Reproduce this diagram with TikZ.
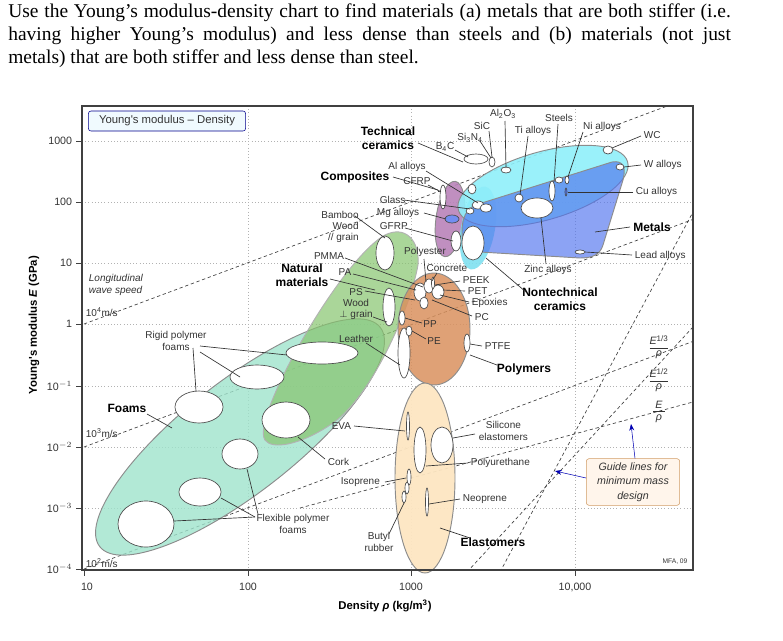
\documentclass[tikz,border=0pt]{standalone}
\usepackage{fontspec}
\setmainfont{Liberation Serif}
\newfontfamily\arial{Liberation Sans}
\usetikzlibrary{arrows.meta}
\definecolor{foamc}{HTML}{9FE3CC}
\definecolor{natc}{HTML}{86C46E}
\definecolor{polc}{HTML}{D9915E}
\definecolor{elac}{HTML}{FDE6C2}
\definecolor{compc}{HTML}{B983B9}
\definecolor{cerc}{HTML}{8FEFFA}
\definecolor{metc}{HTML}{4F72EE}
\definecolor{ntc}{HTML}{7FE0F0}
\begin{document}
\begin{tikzpicture}[x=0.75pt,y=-0.75pt,
  bub/.style={draw=black!70,fill=white,line width=0.5pt},
  env/.style={draw=black!45,line width=0.7pt},
  lab/.style={font=\arial\fontsize{7.5}{8.5}\selectfont,text=black!80,inner sep=0.5pt,align=center},
  fam/.style={font=\arial\bfseries\fontsize{9}{10.5}\selectfont,inner sep=0.5pt,align=center},
  ld/.style={draw=black!80,line width=0.5pt},
  grid/.style={draw=black!30,dotted,line width=0.4pt},
  gl/.style={draw=black!75,dash pattern=on 2.5pt off 2pt,line width=0.5pt}]
\useasboundingbox (0,0) rectangle (783,640);
% question
\node[anchor=north west,inner sep=0,text width=542pt,align=justify,font=\fontsize{14.6}{17}\selectfont] (q) at (8,4)
{Use the Young's modulus-density chart to find materials (a) metals that are both stiffer (i.e.\linebreak having higher Young's modulus) and less dense than steels and (b) materials (not just\linebreak metals) that are both stiffer and less dense than steel.};
% grid
\foreach \y in {141,202,263,324,386,447,508} \draw[grid] (82,\y) -- (693,\y);
\foreach \x in {248,411,575} \draw[grid] (\x,106) -- (\x,570);
% guide lines (clipped)
\begin{scope}
\clip (82,106) rectangle (693,570);
\foreach \b in {324,447,569} \draw[gl] (84,\b) -- (84+164*4,\b-61.3*4);
\draw[gl] (300,508) -- (693,402);
\draw[gl] (467,572) -- (693,327);
\draw[gl] (500,572) -- (693,212);
\end{scope}
% envelopes
\fill[foamc,opacity=0.8] [rotate around={38:(240,437)}] (240,437) ellipse [x radius=178,y radius=56];
\draw[env] [rotate around={38:(240,437)}] (240,437) ellipse [x radius=178,y radius=56];
\fill[natc,opacity=0.7] (265,440) .. controls (250,420) and (340,260) .. (385,235) .. controls (405,225) and (420,240) .. (418,265) .. controls (410,310) and (370,400) .. (330,425) .. controls (300,445) and (272,450) .. (265,440) -- cycle;
\draw[env,draw=black!30] (265,440) .. controls (250,420) and (340,260) .. (385,235) .. controls (405,225) and (420,240) .. (418,265) .. controls (410,310) and (370,400) .. (330,425) .. controls (300,445) and (272,450) .. (265,440) -- cycle;
\fill[polc,opacity=0.85] (434,329) ellipse [x radius=36,y radius=56];
\draw[env] (434,329) ellipse [x radius=36,y radius=56];
\fill[elac,opacity=0.95] (425,478) ellipse [x radius=30,y radius=95];
\draw[env] (425,478) ellipse [x radius=30,y radius=95];
\fill[compc,opacity=0.9] [rotate around={-8:(450,219)}] (450,219) ellipse [x radius=14,y radius=38];
\draw[env] [rotate around={-8:(450,219)}] (450,219) ellipse [x radius=14,y radius=38];
\fill[ntc,opacity=0.9] [rotate around={-10:(478,228)}] (478,228) ellipse [x radius=17,y radius=42];
\fill[cerc,opacity=0.9] [rotate around={16:(543,186)}] (543,186) ellipse [x radius=88,y radius=34];
\draw[env] [rotate around={16:(543,186)}] (543,186) ellipse [x radius=88,y radius=34];
\fill[metc,opacity=0.65] (462,232) .. controls (462,212) and (470,205) .. (485,202) -- (612,162) .. controls (624,160) and (626,168) .. (623,180) -- (603,245) .. controls (600,255) and (592,258) .. (580,258) -- (480,252) .. controls (466,250) and (462,245) .. (462,232) -- cycle;
\draw[env] (462,232) .. controls (462,212) and (470,205) .. (485,202) -- (612,162) .. controls (624,160) and (626,168) .. (623,180) -- (603,245) .. controls (600,255) and (592,258) .. (580,258) -- (480,252) .. controls (466,250) and (462,245) .. (462,232) -- cycle;
% bubbles: foams
\draw[bub] (199,407) ellipse [x radius=24,y radius=16];
\draw[bub] (257,377) ellipse [x radius=27,y radius=12];
\draw[bub] (322,353) ellipse [x radius=36,y radius=11];
\draw[bub] (286,420) ellipse [x radius=24,y radius=18];
\draw[bub] (240,454) ellipse [x radius=18,y radius=15];
\draw[bub] (200,492) ellipse [x radius=21,y radius=14];
\draw[bub] (146,524) ellipse [x radius=28,y radius=23];
% natural / polymers
\draw[bub] (385,253) ellipse [x radius=9,y radius=17];
\draw[bub] (389,307) ellipse [x radius=6,y radius=19];
\draw[bub] (404,353) ellipse [x radius=6,y radius=25];
\draw[bub] (402,318) ellipse [x radius=3,y radius=7];
\draw[bub] (409,331) ellipse [x radius=3,y radius=5];
\draw[bub] (467,343) ellipse [x radius=3,y radius=9];
\draw[bub] (420,292) ellipse [x radius=6,y radius=9];
\draw[bub] (429,286) ellipse [x radius=5,y radius=7];
\draw[bub] (438,292) ellipse [x radius=6,y radius=7];
\draw[bub] (424,303) ellipse [x radius=4,y radius=6];
\draw[bub] (433,283) ellipse [x radius=1.5,y radius=6];
% composites / ceramics / metals
\draw[bub] (443,197) ellipse [x radius=3,y radius=12];
\draw[bub] (456,241) ellipse [x radius=5,y radius=10];
\draw[bub,fill=metc!80] (452,219) ellipse [x radius=7,y radius=4];
\draw[bub] (473,243) ellipse [x radius=11,y radius=17];
\draw[bub] (476,159) ellipse [x radius=12,y radius=5];
\draw[bub] (492,162) ellipse [x radius=3,y radius=5];
\draw[bub] (506,170) ellipse [x radius=5,y radius=3];
\draw[bub] (472,189) ellipse [x radius=4,y radius=5];
\draw[bub] (519,198) ellipse [x radius=4,y radius=4];
\draw[bub] (478,205) ellipse [x radius=6,y radius=4];
\draw[bub] (486,208) ellipse [x radius=6,y radius=4];
\draw[bub] (470,211) ellipse [x radius=4,y radius=3];
\draw[bub] (552,191) ellipse [x radius=3,y radius=10];
\draw[bub] (537,208) ellipse [x radius=16,y radius=10];
\draw[bub] (559,180) ellipse [x radius=4,y radius=3];
\draw[bub] (567,180) ellipse [x radius=2,y radius=4];
\draw[bub] (608,150) ellipse [x radius=5,y radius=4];
\draw[bub] (620,167) ellipse [x radius=4,y radius=3];
\draw[bub,fill=metc] (566,192) ellipse [x radius=1,y radius=4];
\draw[bub] (580,252) ellipse [x radius=5,y radius=2];
% elastomers
\draw[bub] (408,426) ellipse [x radius=1.5,y radius=14];
\draw[bub] (442,445) ellipse [x radius=11,y radius=18];
\draw[bub] (420,450) ellipse [x radius=6,y radius=23];
\draw[bub] (409,477) ellipse [x radius=2,y radius=8];
\draw[bub] (407,488) ellipse [x radius=2,y radius=6];
\draw[bub] (404,497) ellipse [x radius=2,y radius=6];
\draw[bub] (427,502) ellipse [x radius=1.5,y radius=14];
% frame and ticks
\draw[black!75,line width=0.8pt] (82,106) rectangle (693,570);
\foreach \y in {141,202,263,324,386,447,508,569} \draw[black!75] (82,\y) -- (76,\y);
\foreach \x in {84,248,411,575} \draw[black!75] (\x,570) -- (\x,576);
% title box
\node[lab,font=\arial\fontsize{8.5}{10}\selectfont,draw=blue!55!black,fill=cyan!6,rounded corners=2pt,minimum width=118pt,minimum height=15pt] (title) at (167,121) {Young's modulus – Density};
% axis labels
\foreach \t/\y/\n in {1000/141/ya,100/202/yb,10/263/yc,1/324/yd,10$^{-1}$/386/ye,10$^{-2}$/447/yf,10$^{-3}$/508/yg,10$^{-4}$/569/yh}
  \node[lab,anchor=east,font=\arial\fontsize{8}{9}\selectfont] (\n) at (73,\y) {\t};
\foreach \t/\x/\n in {10/87/xa,100/248/xb,1000/411/xc,{10,000}/575/xd}
  \node[lab,font=\arial\fontsize{8}{9}\selectfont] (\n) at (\x,587) {\t};
\node[fam,font=\arial\bfseries\fontsize{8.5}{10}\selectfont] (xl) at (385,606) {Density \textit{ρ} (kg/m\textsuperscript{3})};
\node[fam,font=\arial\bfseries\fontsize{8.5}{10}\selectfont,rotate=90] (yl) at (34,325) {Young's modulus \textit{E} (GPa)};
% wave speed labels
\node[lab,anchor=west,align=left,font=\arial\itshape\fontsize{7.5}{9.5}\selectfont] (lw) at (88,285) {Longitudinal\\wave speed};
\node[lab,anchor=west] (w4) at (85,312) {10\textsuperscript{4}m/s};
\node[lab,anchor=west] (w3) at (85,433) {10\textsuperscript{3}m/s};
\node[lab,anchor=west] (w2) at (85,563) {10\textsuperscript{2}m/s};
% family labels
\node[fam] (ffoam) at (127,408) {Foams};
\node[fam] (fnat) at (302,275) {Natural\\materials};
\node[fam] (fcomp) at (355,177) {Composites};
\node[fam] (ftc) at (388,138) {Technical\\ceramics};
\node[fam] (fmet) at (652,227) {Metals};
\node[fam] (fntc) at (560,299) {Nontechnical\\ceramics};
\node[fam] (fpol) at (524,369) {Polymers};
\node[fam] (fela) at (493,542) {Elastomers};
\draw[ld] (147,414) -- (172,428);
\draw[ld] (330,279) -- (375,290);
\draw[ld] (393,177) -- (438,190);
\draw[ld] (418,143) -- (463,162);
\draw[ld] (630,227) -- (595,232);
\draw[ld] (526,292) -- (486,258);
\draw[ld] (497,365) -- (470,355);
\draw[ld] (470,538) -- (440,528);
% material labels
\node[lab] (rpf) at (176,341) {Rigid polymer\\foams};
\draw[ld] (200,346) -- (287,355); \draw[ld] (200,352) -- (240,377); \draw[ld] (193,348) -- (196,391);
\node[lab] (fpf) at (293,524) {Flexible polymer\\foams};
\draw[ld] (255,517) -- (174,521); \draw[ld] (255,517) -- (221,498); \draw[ld] (258,514) -- (247,469);
\node[lab,anchor=west] (cork) at (327,462) {Cork};
\draw[ld] (325,459) -- (298,437);
\node[lab,anchor=west] (iso) at (340,482) {Isoprene};
\draw[ld] (385,482) -- (406,478);
\node[lab,anchor=east] (eva) at (352,426) {EVA};
\draw[ld] (354,426) -- (405,431);
\node[lab] (butyl) at (379,542) {Butyl\\rubber};
\draw[ld] (389,534) -- (404,503);
\node[lab,anchor=west] (sil) at (478,431) {Silicone\\elastomers};
\draw[ld] (475,434) -- (453,438);
\node[lab,anchor=west] (pu) at (470,463) {Polyurethane};
\draw[ld] (468,463) -- (426,466);
\node[lab,anchor=west] (neo) at (462,499) {Neoprene};
\draw[ld] (460,499) -- (429,504);
% guide box
\node[lab,font=\arial\itshape\fontsize{8}{11}\selectfont,draw=orange!70!black!60,fill=orange!8,rounded corners=2pt,minimum width=70pt,minimum height=35pt] (guide) at (633,482) {Guide lines for\\minimum mass\\design};
\draw[blue!70!black,-{Stealth[length=5pt]}] (guide.north) ++(2,0) -- (631,424);
\draw[blue!70!black,-{Stealth[length=5pt]}] (guide.west) ++(0,-4) -- (555,471);
\node[lab,font=\arial\fontsize{8}{9}\selectfont] (e3) at (659,347) {\shortstack{\textit{E}\textsuperscript{1/3}\\[-1pt]\rule{14pt}{0.4pt}\\[-1pt]\textit{ρ}}};
\node[lab,font=\arial\fontsize{8}{9}\selectfont] (e2) at (659,380) {\shortstack{\textit{E}\textsuperscript{1/2}\\[-1pt]\rule{14pt}{0.4pt}\\[-1pt]\textit{ρ}}};
\node[lab,font=\arial\fontsize{8}{9}\selectfont] (e1) at (659,412) {\shortstack{\textit{E}\\[-1pt]\rule{9pt}{0.4pt}\\[-1pt]\textit{ρ}}};
\node[lab,font=\arial\fontsize{5}{6}\selectfont] (mfa) at (675,562) {MFA, 09};
% polymers/natural
\node[lab,anchor=west] (ptfe) at (484,346) {PTFE};
\draw[ld] (482,346) -- (470,344);
\node[lab] (pe) at (434,341) {PE};
\draw[ld] (426,339) -- (412,331);
\node[lab] (pp) at (430,324) {PP};
\draw[ld] (422,323) -- (405,318);
\node[lab,anchor=west] (pc) at (474,317) {PC};
\draw[ld] (472,316) -- (432,300);
\node[lab,anchor=west] (epo) at (471,303) {Epoxies};
\draw[ld] (469,302) -- (440,295);
\node[lab,anchor=west] (pet) at (467,291) {PET};
\draw[ld] (465,291) -- (443,290);
\node[lab,anchor=west] (peek) at (462,280) {PEEK};
\draw[ld] (460,281) -- (435,285);
\node[lab] (conc) at (447,268) {Concrete};
\draw[ld] (437,273) -- (432,281);
\node[lab] (polyes) at (425,252) {Polyester};
\draw[ld] (424,259) -- (426,282);
\node[lab] (leath) at (356,339) {Leather};
\draw[ld] (366,343) -- (400,365);
\node[lab] (wperp) at (356,304) {PS\\Wood\\$\perp$ grain};
\draw[ld] (373,317) -- (387,322);
\draw[ld] (365,291) -- (415,300);
\node[lab] (pa) at (345,272) {PA};
\draw[ld] (353,274) -- (416,290);
\node[lab] (pmma) at (329,256) {PMMA};
\draw[ld] (345,258) -- (423,287);
\node[lab,align=right] (bamboo) at (338,227) {Bamboo\\\hspace*{8pt}Wood\\\hspace*{8pt}// grain};
\draw[ld] (355,216) -- (385,238);
\node[lab,anchor=west] (gfrp) at (379,226) {GFRP};
\draw[ld] (405,228) -- (453,241);
\node[lab,anchor=west] (mg) at (376,213) {Mg alloys};
\draw[ld] (424,213) -- (446,219);
\node[lab,anchor=west] (glass) at (379,200) {Glass};
\draw[ld] (404,200) -- (470,209);
\node[lab] (cfrp) at (417,181) {CFRP};
\draw[ld] (428,185) -- (441,192);
\node[lab] (al) at (407,167) {Al alloys};
\draw[ld] (426,171) -- (478,203);
\node[lab] (b4c) at (445,147) {B\textsubscript{4}C};
\draw[ld] (455,150) -- (468,157);
\node[lab] (si3n4) at (470,138) {Si\textsubscript{3}N\textsubscript{4}};
\draw[ld] (480,141) -- (491,158);
\node[lab] (sic) at (482,126) {SiC};
\draw[ld] (489,131) -- (492,157);
\node[lab] (al2o3) at (503,114) {Al\textsubscript{2}O\textsubscript{3}};
\draw[ld] (505,121) -- (506,168);
\node[lab] (steel) at (559,118) {Steels};
\draw[ld] (558,124) -- (554,182);
\node[lab] (ti) at (533,131) {Ti alloys};
\draw[ld] (528,136) -- (520,195);
\node[lab] (ni) at (602,127) {Ni alloys};
\draw[ld] (583,132) -- (568,177);
\node[lab,anchor=west] (wc) at (643,135) {WC};
\draw[ld] (641,136) -- (612,148);
\node[lab,anchor=west] (walloy) at (643,165) {W alloys};
\draw[ld] (641,165) -- (624,167);
\node[lab,anchor=west] (cu) at (635,192) {Cu alloys};
\draw[ld] (633,192) -- (568,192);
\node[lab,anchor=west] (lead) at (634,256) {Lead alloys};
\draw[ld] (632,255) -- (585,252);
\node[lab] (zinc) at (548,270) {Zinc alloys};
\draw[ld] (546,264) -- (541,218);
\end{tikzpicture}
\end{document}
